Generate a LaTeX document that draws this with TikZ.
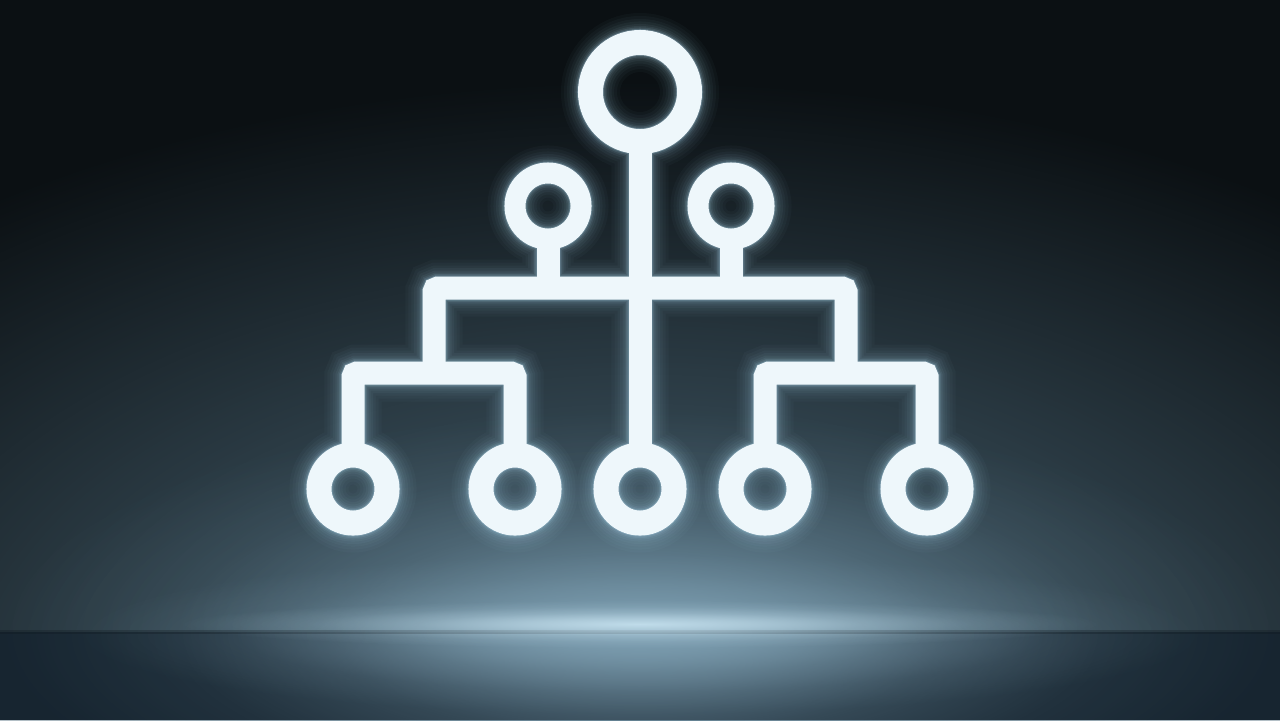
\documentclass[tikz,border=0pt]{standalone}
\usetikzlibrary{fadings}
\definecolor{bgdark}{HTML}{0B1013}
\definecolor{bghaze}{HTML}{4E6A7A}
\definecolor{bglight}{HTML}{7C9EB1}
\definecolor{bgband}{HTML}{C0DCEA}
\definecolor{floorc}{HTML}{172530}
\definecolor{floorglow}{HTML}{86A6B8}
\definecolor{horizon}{HTML}{0E171D}
\definecolor{glowc}{HTML}{A8D4EA}
\definecolor{corec}{HTML}{EEF7FB}
\colorlet{treec}{corec}
\newcommand\glowpad{0cm}
\tikzfading[name=lingrow, inner color=transparent!0, outer color=transparent!100]
\pgfdeclareradialshading{softshade}{\pgfpointorigin}{color(0bp)=(white); color(6bp)=(black!30); color(12bp)=(black!65); color(18bp)=(black!88); color(25bp)=(black); color(50bp)=(black)}
\pgfdeclarefading{softgrow}{\pgfuseshading{softshade}}
\tikzset{>=latex,
  ring/.style 2 args={circle, inner sep=0pt, outer sep=0pt, minimum size=#1, draw=treec, line width=#2+\glowpad},
  wire/.style={draw=treec, line width=0.23cm+\glowpad, rounded corners=0.04cm},
  haze/.style={path fading=lingrow},
  soft/.style={path fading=softgrow}
}
% the tree, drawn once per glow pass
\newcommand\drawtree{%
  \node[ring={0.99cm}{0.25cm}] (n0) at (640,92) {};
  \node[ring={0.66cm}{0.21cm}] (n1) at (548,206) {};
  \node[ring={0.66cm}{0.21cm}] (n2) at (731,206) {};
  \node[ring={0.68cm}{0.25cm}] (n3) at (353,489) {};
  \node[ring={0.68cm}{0.25cm}] (n4) at (515,489) {};
  \node[ring={0.68cm}{0.25cm}] (n5) at (640,489) {};
  \node[ring={0.68cm}{0.25cm}] (n6) at (765,489) {};
  \node[ring={0.68cm}{0.25cm}] (n7) at (927,489) {};
  \coordinate (aux1) at (434,373);
  \coordinate (aux2) at (846,373);
  \coordinate (aux3) at (434,288);
  \coordinate (aux4) at (846,288);
  \draw[wire] (n0.south) -- (n5.north);
  \draw[wire] (n1.south) -- (n1.south |- aux3);
  \draw[wire] (n2.south) -- (n2.south |- aux4);
  \draw[wire] (aux1) -- (aux3) -- (aux4) -- (aux2);
  \draw[wire] (n3.north) |- (aux1) -| (n4.north);
  \draw[wire] (n7.north) |- (aux2) -| (n6.north);
}
\begin{document}
\begin{tikzpicture}[x=0.01cm, y=-0.01cm]
  \useasboundingbox (0,0) rectangle (1280,720);
  \clip (0,0) rectangle (1280,720);
  % backdrop
  \fill[bgdark] (0,0) rectangle (1280,720);
  \fill[bghaze, haze] (640,700) ellipse (1100 and 620);
  % floor
  \fill[floorc] (0,632) rectangle (1280,720);
  \fill[floorglow, soft] (640,634) ellipse (560 and 80);
  \fill[bglight, soft, opacity=0.85] (640,630) ellipse (640 and 220);
  \fill[horizon, opacity=0.3] (0,630) rectangle (1280,634);
  \fill[bgband, soft] (640,624) ellipse (460 and 24);
  % glow passes
  \foreach \w/\o in {0.34cm/0.03, 0.28cm/0.035, 0.22cm/0.04, 0.17cm/0.05, 0.12cm/0.06, 0.08cm/0.08, 0.05cm/0.12, 0.02cm/0.25}{
    \begin{scope}[transparency group, opacity=\o]
      \def\glowpad{\w}\colorlet{treec}{glowc}
      \drawtree
    \end{scope}
  }
  % core
  \drawtree
\end{tikzpicture}
\end{document}
